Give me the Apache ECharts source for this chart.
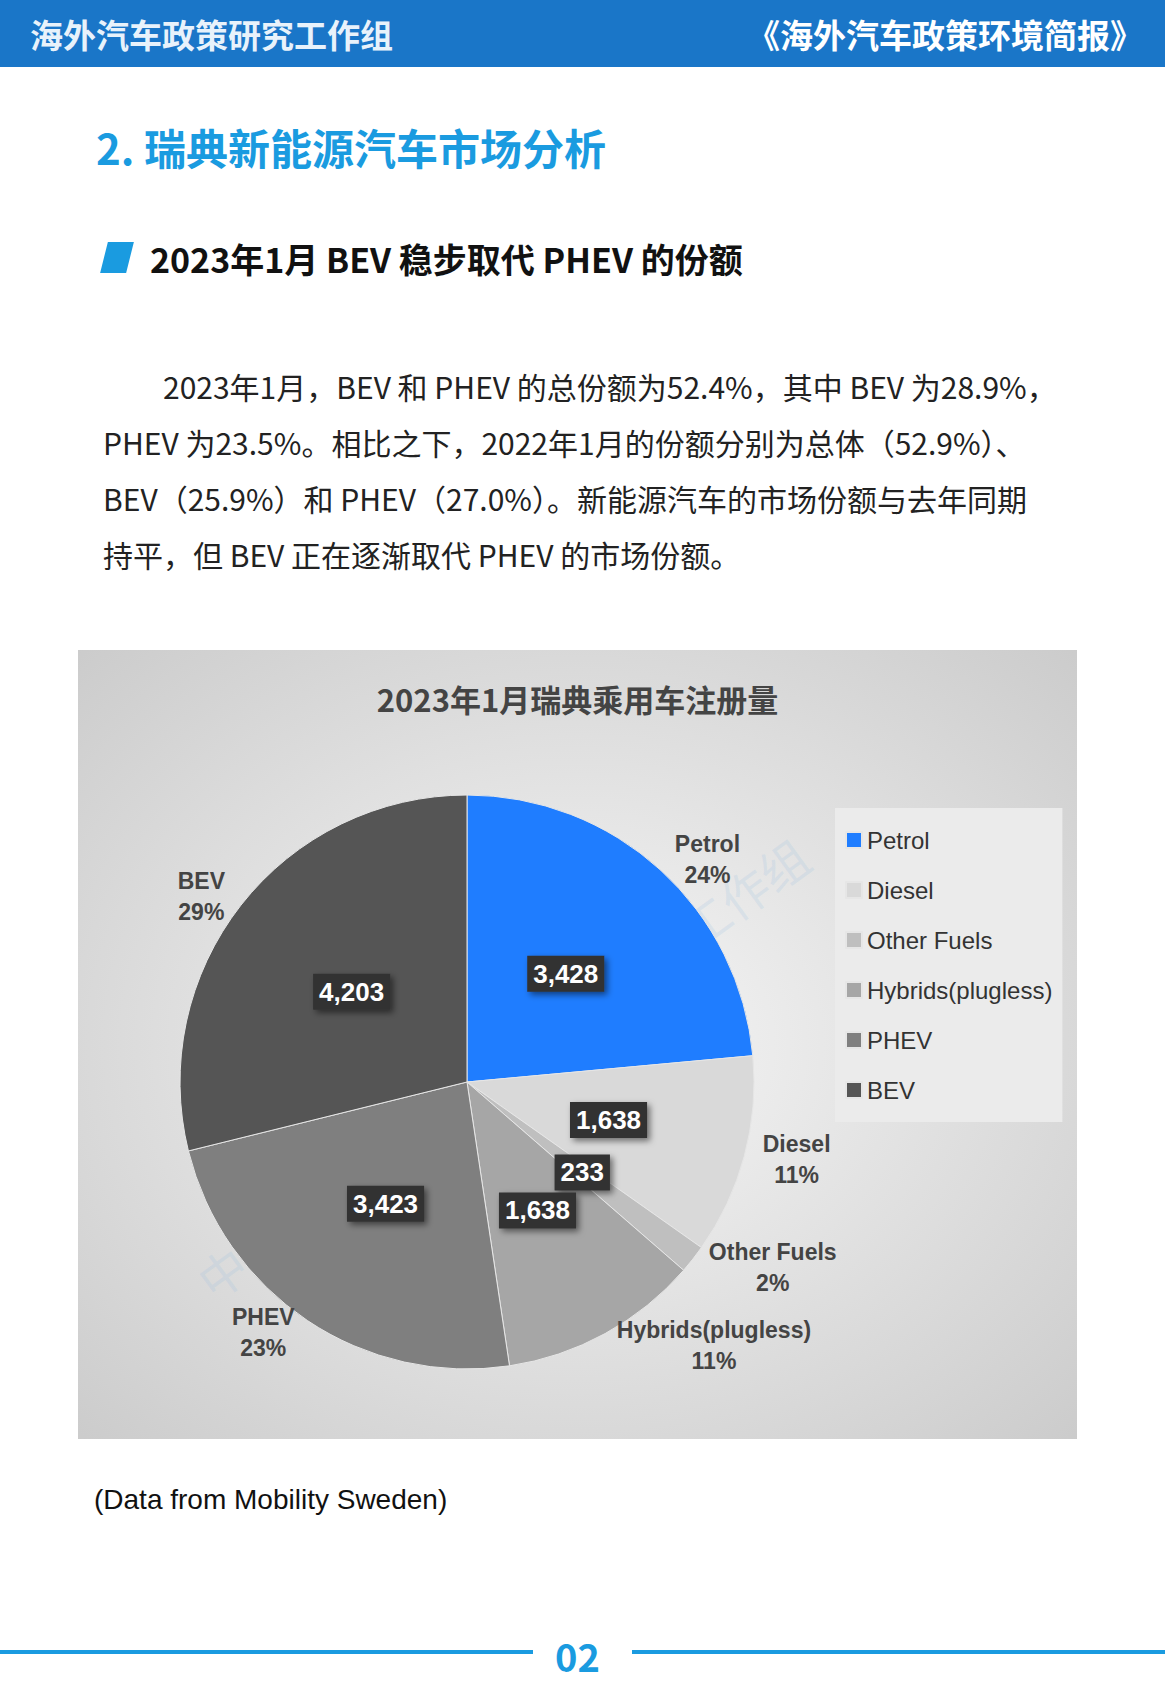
<!DOCTYPE html>
<html lang="zh">
<head>
<meta charset="UTF-8">
<title>瑞典新能源汽车市场分析</title>
<script src="https://cdn.jsdelivr.net/npm/echarts@6/dist/echarts.min.js"></script>
<style>
  body { margin:0; width:1165px; height:1683px; position:relative; background:#fff; font-family:"Noto Sans CJK SC","Noto Sans",sans-serif; overflow:hidden; }
  .abs { position:absolute; }
  #head { left:0; top:0; width:1165px; height:67px; background:#1a76c8; color:#fff; font-weight:bold; font-size:33px; }
  #head .l { position:absolute; left:30px; top:10px; color:#e8f2fb; }
  #head .r { position:absolute; right:22px; top:10px; }
  #h2 { left:96px; top:116px; font-size:42px; font-weight:bold; color:#1a9be0; }
  #flag { left:104px; top:242px; width:26px; height:31px; background:#1a9be0; transform:skewX(-14deg); }
  #h3 { left:150px; top:234px; font-size:34px; font-weight:bold; color:#111; }
  #para { left:103px; top:358px; width:1000px; font-size:30px; line-height:56px; color:#222; }
  #main { left:78px; top:650px; width:999px; height:789px; }
  #src { left:94px; top:1484px; font-size:28px; color:#111; font-family:"Liberation Sans",Arial,sans-serif; }
  .line { top:1650px; height:4px; background:#1a9be0; }
  #pg { left:555px; top:1628px; font-size:38px; font-weight:bold; color:#1a9be0; }
</style>
</head>
<body>
<div id="head" class="abs"><span class="l">海外汽车政策研究工作组</span><span class="r">《海外汽车政策环境简报》</span></div>
<div id="h2" class="abs">2. 瑞典新能源汽车市场分析</div>
<div id="flag" class="abs"></div>
<div id="h3" class="abs">2023年1月 BEV 稳步取代 PHEV 的份额</div>
<div id="para" class="abs">&emsp;&emsp;2023年1月，BEV 和 PHEV 的总份额为52.4%，其中 BEV 为28.9%，<br>PHEV 为23.5%。相比之下，2022年1月的份额分别为总体（52.9%）、<br>BEV（25.9%）和 PHEV（27.0%）。新能源汽车的市场份额与去年同期<br>持平，但 BEV 正在逐渐取代 PHEV 的市场份额。</div>
<div id="main" class="abs"></div>
<div id="src" class="abs">(Data from Mobility Sweden)</div>
<div class="abs line" style="left:0;width:533px"></div>
<div class="abs line" style="left:632px;width:533px"></div>
<div id="pg" class="abs">02</div>
<script>
const categories = ['Petrol', 'Diesel', 'Other Fuels', 'Hybrids(plugless)', 'PHEV', 'BEV'];
const registrations = [3428, 1638, 233, 1638, 3423, 4203];
const colors = ['#1f7dff', '#d9d9d9', '#bfbfbf', '#a6a6a6', '#7f7f7f', '#555555'];

const chart = echarts.init(document.getElementById('main'), null, { renderer: 'svg' });
const pieData = categories.map((c, i) => ({ name: c, value: registrations[i], itemStyle: { color: colors[i] } }));
const center = [389, 432];
const radius = 287;

chart.setOption({
  backgroundColor: {
    type: 'radial', x: 0.5, y: 0.5, r: 0.75,
    colorStops: [{ offset: 0, color: '#f7f7f7' }, { offset: 1, color: '#c9c9c9' }]
  },
  title: {
    text: '2023年1月瑞典乘用车注册量', left: 'center', top: 28,
    textStyle: { fontSize: 31, fontWeight: 'bold', color: '#444', fontFamily: 'Noto Sans CJK SC' }
  },
  legend: {
    orient: 'vertical', left: 757, top: 158, itemGap: 26, itemWidth: 16, itemHeight: 16,
    icon: 'rect', padding: [20, 10, 20, 10], backgroundColor: '#ebebeb',
    textStyle: { fontSize: 24, color: '#333', fontFamily: 'Liberation Sans' },
    data: categories
  },
  graphic: [{
    type: 'text', left: 110, top: 180, rotation: Math.PI / 5,
    style: { text: '中国汽研  海外汽车政策研究工作组', fontSize: 48, fill: 'rgba(150,190,225,0.2)', fontFamily: 'Noto Sans CJK SC' }
  }],
  series: [{
    type: 'pie', center: center, radius: radius, startAngle: 90, clockwise: true,
    data: pieData, silent: true, percentPrecision: 0,
    itemStyle: { borderColor: '#e6e6e6', borderWidth: 1 },
    label: {
      position: 'inside', formatter: p => p.value.toLocaleString('en-US'),
      color: '#fff', fontSize: 26, fontWeight: 'bold', fontFamily: 'Liberation Sans',
      backgroundColor: '#333', padding: [6, 6, 4, 6],
      shadowColor: 'rgba(0,0,0,0.5)', shadowBlur: 6, shadowOffsetX: 3, shadowOffsetY: 3
    },
    labelLine: { show: false }
  }, {
    type: 'pie', center: center, radius: radius, startAngle: 90, clockwise: true,
    data: pieData.map(d => ({ name: d.name, value: d.value })), silent: true, percentPrecision: 0,
    itemStyle: { color: 'transparent' },
    label: {
      position: 'outside', formatter: p => '{c|' + p.name + '}\n{c|' + p.percent + '%}', distance: 18,
      rich: { c: { align: 'center', lineHeight: 31, color: '#444', fontSize: 23, fontWeight: 'bold', fontFamily: 'Liberation Sans' } }
    },
    labelLine: { show: false, length: 14, length2: 0 }
  }]
});
</script>
</body>
</html>
